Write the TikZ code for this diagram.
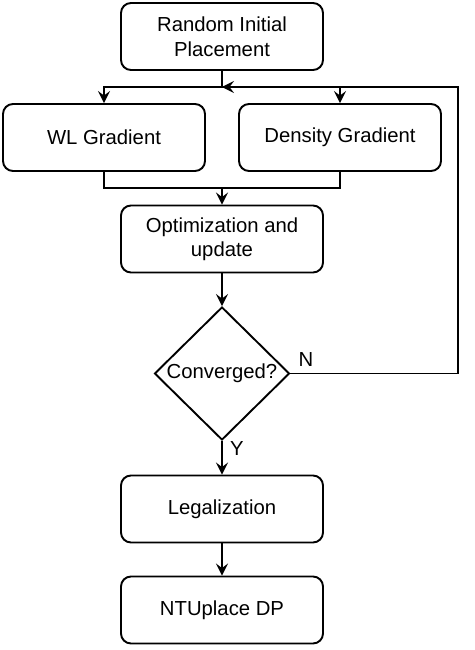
\documentclass[tikz,border=0pt]{standalone}
\usepackage{fontspec}
\setmainfont{Liberation Sans}
\usetikzlibrary{shapes.geometric,arrows.meta}
\tikzset{
  box/.style={draw, line width=1.9pt, rounded corners=10pt, minimum width=202pt, minimum height=67pt, align=center, inner sep=0pt, font=\fontsize{20.3}{24.5}\selectfont},
  conn/.style={line width=1.9pt},
  arr/.style={conn, -{Stealth[length=12pt,width=12pt,inset=4.5pt]}},
  lbl/.style={font=\fontsize{20.3}{24.5}\selectfont, inner sep=0pt}
}
\begin{document}
\begin{tikzpicture}[x=1pt,y=-1pt]
\useasboundingbox (0,0) rectangle (474,650);
\node[box] (rip) at (222,36.5) {Random Initial\\Placement};
\node[box] (wl) at (104,137.5) {WL Gradient};
\node[box] (dg) at (340,137.5) {Density Gradient};
\node[box] (opt) at (222,239) {Optimization and\\update};
\node[diamond, draw, line width=1.9pt, minimum width=135pt, minimum height=133pt, inner sep=0pt] (conv) at (222,373.5) {};
\node[lbl] at (conv) {Converged?};
\node[box] (leg) at (222,509) {Legalization};
\node[box] (ntu) at (222,610) {NTUplace DP};
\coordinate (j1) at (222,87);
\coordinate (j2) at (222,188);
\coordinate (rr) at (458,373.5);
\draw[conn] (rip.south) -- (j1);
\draw[arr] (j1) -| (wl.north);
\draw[arr] (j1) -| (dg.north);
\draw[conn] (wl.south) |- (j2) -| (dg.south);
\draw[arr] (j2) -- (opt.north);
\draw[arr] (opt.south) -- (conv.north);
\draw[arr] (conv.south) -- (leg.north);
\draw[arr] (leg.south) -- (ntu.north);
\draw[arr] (conv.east) -- (rr) |- (j1);
\node[lbl] (nl) at (306,360) {N};
\node[lbl] (yl) at (237,449) {Y};
\end{tikzpicture}
\end{document}
